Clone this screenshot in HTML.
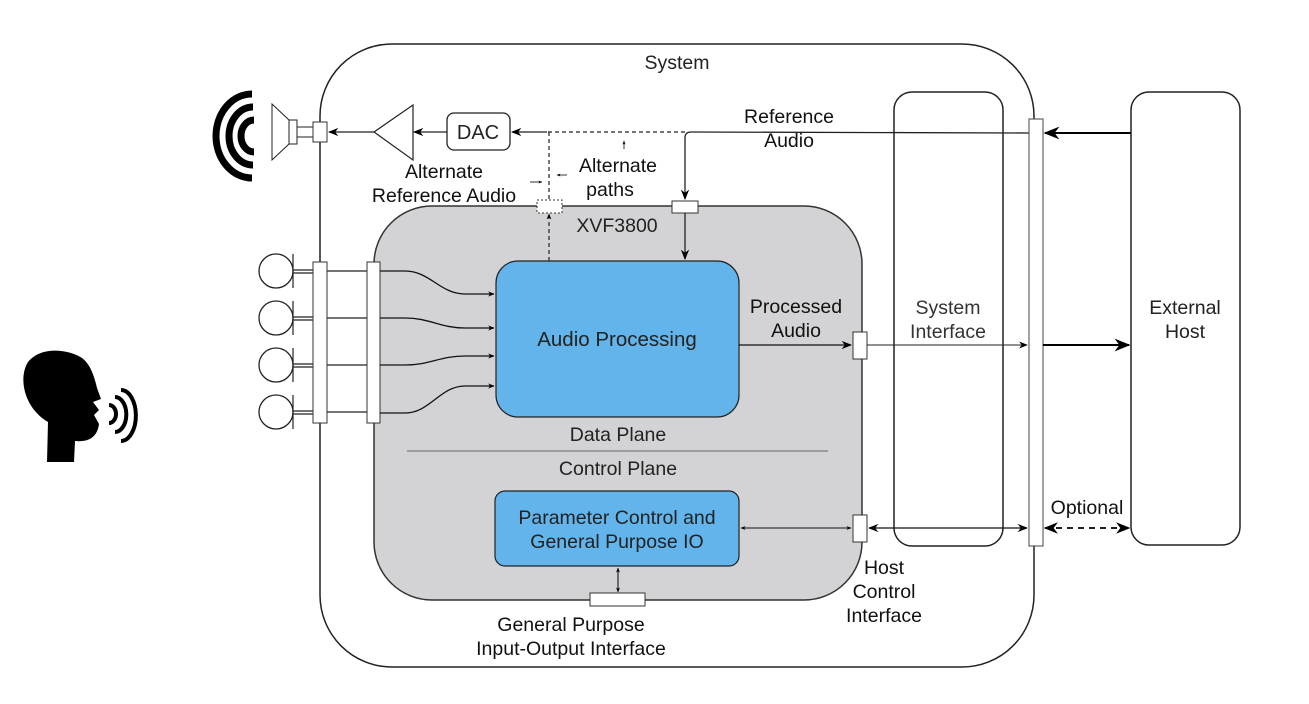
<!DOCTYPE html>
<html><head><meta charset="utf-8"><style>
html,body{margin:0;padding:0;background:#fff;}
svg{display:block;font-family:"Liberation Sans",sans-serif;}
</style></head><body>
<svg width="1309" height="704" viewBox="0 0 1309 704" xmlns="http://www.w3.org/2000/svg">
<defs>
<marker id="a" viewBox="0 0 10 10" refX="9" refY="5" markerWidth="8" markerHeight="8" orient="auto-start-reverse"><path d="M0,1 L10,5 L0,9 L3,5 Z" fill="#000"/></marker>
<marker id="s" viewBox="0 0 10 10" refX="9" refY="5" markerWidth="5" markerHeight="5" orient="auto-start-reverse"><path d="M0,1 L10,5 L0,9 L3,5 Z" fill="#000"/></marker>
</defs>
<g font-size="19.5">
<!-- System -->
<rect x="320" y="44" width="714" height="623" rx="72" fill="#fff" stroke="#222" stroke-width="1.5"/>
<text x="677" y="69" text-anchor="middle" fill="#222">System</text>
<!-- XVF3800 -->
<rect x="374" y="206" width="488" height="394" rx="58" fill="#d3d3d5" stroke="#333" stroke-width="1.5"/>
<text x="617" y="232" text-anchor="middle" fill="#222">XVF3800</text>
<rect x="496" y="261" width="243" height="156" rx="22" fill="#63b4ea" stroke="#222" stroke-width="1.2"/>
<text x="617" y="346" font-size="20.5" text-anchor="middle" fill="#222">Audio Processing</text>
<line x1="407" y1="451" x2="828" y2="451" stroke="#666" stroke-width="1"/>
<text x="618" y="441" text-anchor="middle" fill="#222">Data Plane</text>
<text x="618" y="475" text-anchor="middle" fill="#222">Control Plane</text>
<rect x="495" y="491" width="244" height="75" rx="10" fill="#63b4ea" stroke="#222" stroke-width="1.2"/>
<text x="617" y="524" text-anchor="middle" fill="#222">Parameter Control and</text>
<text x="617" y="548" text-anchor="middle" fill="#222">General Purpose IO</text>
<!-- GPIO -->
<line x1="618" y1="568" x2="618" y2="592" stroke="#000" stroke-width="1" marker-start="url(#s)" marker-end="url(#s)"/>
<rect x="590" y="593" width="55" height="13" fill="#fff" stroke="#333"/>
<text x="571" y="631" text-anchor="middle" fill="#111">General Purpose</text>
<text x="571" y="655" text-anchor="middle" fill="#111">Input-Output Interface</text>
<!-- System interface & external host -->
<rect x="894" y="92" width="109" height="454" rx="18" fill="none" stroke="#222" stroke-width="1.5"/>
<text x="948" y="314" text-anchor="middle" fill="#333">System</text>
<text x="948" y="338" text-anchor="middle" fill="#333">Interface</text>
<rect x="1131" y="92" width="109" height="453" rx="18" fill="#fff" stroke="#222" stroke-width="1.5"/>
<text x="1185" y="314" text-anchor="middle" fill="#222">External</text>
<text x="1185" y="338" text-anchor="middle" fill="#222">Host</text>
<!-- reference audio -->
<line x1="1131" y1="133" x2="1045" y2="133" stroke="#000" stroke-width="2" marker-end="url(#a)"/>
<path d="M1029,133 L691,132 Q685,132 685,138 L685,199" fill="none" stroke="#222" stroke-width="1.3" marker-end="url(#a)"/>
<rect x="1029" y="119" width="14" height="427" fill="#fff" stroke="#444"/>
<text x="789" y="123" text-anchor="middle" fill="#111">Reference</text>
<text x="789" y="147" text-anchor="middle" fill="#111">Audio</text>
<rect x="672" y="201" width="26" height="12" fill="#fff" stroke="#333"/>
<line x1="685" y1="213" x2="685" y2="259" stroke="#222" stroke-width="1.3" marker-end="url(#a)"/>
<!-- alternate paths -->
<line x1="685" y1="132" x2="547" y2="132" stroke="#222" stroke-width="1.2" stroke-dasharray="4,3"/>
<line x1="549" y1="132" x2="549" y2="200" stroke="#222" stroke-width="1.2" stroke-dasharray="4,3"/>
<rect x="537" y="200" width="25" height="13" fill="#fff" stroke="#333" stroke-dasharray="2,2"/>
<line x1="549" y1="261" x2="549" y2="214" stroke="#222" stroke-width="1.2" stroke-dasharray="4,3" marker-end="url(#s)"/>
<line x1="547" y1="132" x2="512" y2="132" stroke="#222" stroke-width="1.3" marker-end="url(#a)"/>
<line x1="624" y1="149" x2="624" y2="141" stroke="#000" stroke-width="0.8" marker-end="url(#s)"/>
<line x1="567" y1="175" x2="557" y2="175" stroke="#000" stroke-width="0.8" marker-end="url(#s)"/>
<line x1="530" y1="182" x2="542" y2="182" stroke="#000" stroke-width="0.8" marker-end="url(#s)"/>
<text x="618" y="172" text-anchor="middle" fill="#111">Alternate</text>
<text x="610" y="196" text-anchor="middle" fill="#111">paths</text>
<text x="444" y="178" text-anchor="middle" fill="#111">Alternate</text>
<text x="444" y="202" text-anchor="middle" fill="#111">Reference Audio</text>
<!-- DAC & amp -->
<rect x="447" y="113" width="63" height="37" rx="7" fill="#fff" stroke="#222" stroke-width="1.3"/>
<text x="478" y="139" font-size="20" text-anchor="middle" fill="#222">DAC</text>
<line x1="447" y1="132" x2="414" y2="132" stroke="#222" stroke-width="1.3" marker-end="url(#a)"/>
<polygon points="374,132 413,105 413,160" fill="#fff" stroke="#222" stroke-width="1.2"/>
<line x1="374" y1="132" x2="329" y2="132" stroke="#222" stroke-width="1.3" marker-end="url(#a)"/>
<!-- speaker -->
<line x1="297" y1="127" x2="314" y2="127" stroke="#222"/>
<line x1="297" y1="137" x2="314" y2="137" stroke="#222"/>
<rect x="289" y="120" width="8" height="24" fill="#fff" stroke="#222"/>
<polygon points="272,104 289,120 289,144 272,160" fill="#fff" stroke="#222"/>
<rect x="313" y="122" width="14" height="20" fill="#fff" stroke="#333"/>
<g fill="none" stroke="#000" stroke-width="7">
<path d="M252,94 A36,42 0 0 0 252,178"/>
<path d="M253,107 A24,29 0 0 0 253,165"/>
<path d="M254,120 A13,16 0 0 0 254,152"/>
</g>
<!-- mics -->
<g fill="#fff" stroke="#222" stroke-width="1.3">
<circle cx="276" cy="271" r="17"/><circle cx="276" cy="318" r="17"/><circle cx="276" cy="365" r="17"/><circle cx="276" cy="412" r="17"/>
</g>
<g stroke="#222" stroke-width="1.2">
<line x1="293" y1="254" x2="293" y2="288"/><line x1="293" y1="301" x2="293" y2="335"/><line x1="293" y1="348" x2="293" y2="382"/><line x1="293" y1="395" x2="293" y2="429"/>
<line x1="293" y1="270" x2="313" y2="270"/><line x1="293" y1="273" x2="313" y2="273"/>
<line x1="293" y1="317" x2="313" y2="317"/><line x1="293" y1="320" x2="313" y2="320"/>
<line x1="293" y1="364" x2="313" y2="364"/><line x1="293" y1="367" x2="313" y2="367"/>
<line x1="293" y1="411" x2="313" y2="411"/><line x1="293" y1="414" x2="313" y2="414"/>
<line x1="327" y1="271" x2="367" y2="271"/><line x1="327" y1="318" x2="367" y2="318"/><line x1="327" y1="365" x2="367" y2="365"/><line x1="327" y1="412" x2="367" y2="412"/>
</g>
<rect x="313" y="262" width="14" height="161" fill="#fff" stroke="#333"/>
<rect x="367" y="262" width="13" height="161" fill="#fff" stroke="#333"/>
<g fill="none" stroke="#111" stroke-width="1.3">
<path d="M380,271 L405,271 C430,271 440,294 465,294 L494,294" marker-end="url(#s)"/>
<path d="M380,318 L405,318 C430,318 440,328 465,328 L494,328" marker-end="url(#s)"/>
<path d="M380,365 L405,365 C430,365 440,356 465,356 L494,356" marker-end="url(#s)"/>
<path d="M380,413 L405,413 C430,413 440,386 465,386 L494,386" marker-end="url(#s)"/>
</g>
<!-- processed audio -->
<line x1="739" y1="345" x2="851" y2="345" stroke="#111" stroke-width="1.3" marker-end="url(#a)"/>
<rect x="853" y="332" width="14" height="27" fill="#fff" stroke="#333"/>
<line x1="867" y1="345" x2="1027" y2="345" stroke="#222" stroke-width="1.1" marker-end="url(#a)"/>
<line x1="1043" y1="345" x2="1129" y2="345" stroke="#000" stroke-width="2" marker-end="url(#a)"/>
<text x="796" y="313" text-anchor="middle" fill="#111">Processed</text>
<text x="796" y="337" text-anchor="middle" fill="#111">Audio</text>
<!-- host control -->
<line x1="741" y1="528" x2="851" y2="528" stroke="#111" stroke-width="1" marker-start="url(#s)" marker-end="url(#s)"/>
<rect x="853" y="515" width="14" height="27" fill="#fff" stroke="#333"/>
<line x1="869" y1="528" x2="1027" y2="528" stroke="#111" stroke-width="1.3" marker-start="url(#a)" marker-end="url(#a)"/>
<line x1="1045" y1="528" x2="1129" y2="528" stroke="#000" stroke-width="1.8" stroke-dasharray="6,5" marker-start="url(#a)" marker-end="url(#a)"/>
<text x="1087" y="514" text-anchor="middle" fill="#111">Optional</text>
<text x="884" y="574" text-anchor="middle" fill="#111">Host</text>
<text x="884" y="598" text-anchor="middle" fill="#111">Control</text>
<text x="884" y="622" text-anchor="middle" fill="#111">Interface</text>
</g>
<!-- speaking head -->
<path d="M47,462 L48,422 C24,408 18,378 28,362 C42,345 70,350 82,358 C90,364 94,375 97,388 L101,399 L93,402 L99,410 L94,415 L99,424 C97,440 85,442 75,441 L74,462 Z" fill="#000"/>
<g fill="none" stroke="#000" stroke-width="4">
<path d="M109,405 A7,9 0 0 1 109,423"/>
<path d="M115,397 A11,17 0 0 1 115,432"/>
<path d="M121,390 A14,24 0 0 1 121,441"/>
</g>
</svg>
</body></html>
